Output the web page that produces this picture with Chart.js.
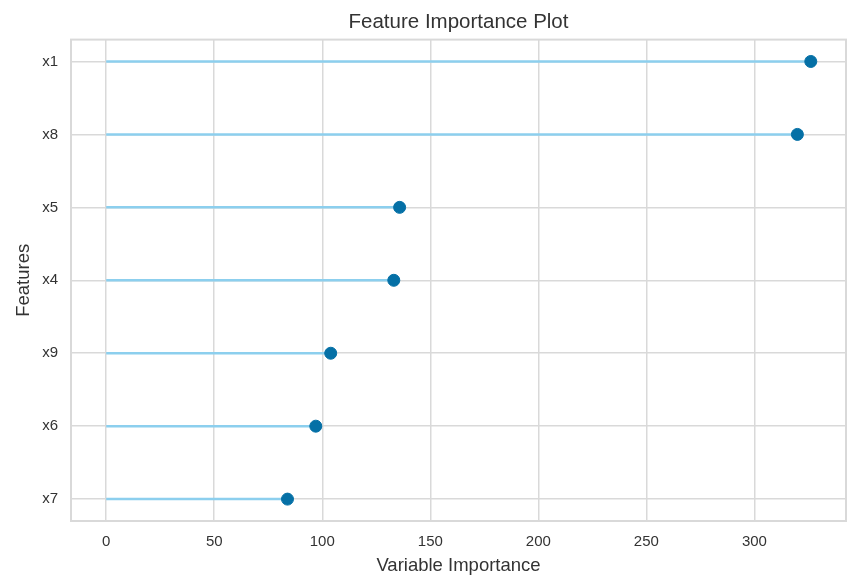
<!DOCTYPE html>
<html>
<head>
<meta charset="utf-8">
<script src="https://cdn.jsdelivr.net/npm/chart.js@4.4.1/dist/chart.umd.min.js"></script>
<style>
  html, body { margin: 0; padding: 0; background: #ffffff; }
  #wrap { width: 853px; height: 577px; position: relative; }
</style>
</head>
<body>
<div id="wrap"><canvas id="c"></canvas></div>
<script>
const features = ["x1", "x8", "x5", "x4", "x9", "x6", "x7"];
const importance = [326.1, 319.9, 135.8, 133.1, 103.9, 97.0, 83.9];
const xTicks = [0, 50, 100, 150, 200, 250, 300];

const chartTitle = "Feature Importance Plot";
const xTitle = "Variable Importance";
const yTitle = "Features";

const gridColor = "#d9d9d9";
const textColor = "#333333";
const stemColor = "#8ccfee";
const dotColor = "#0570a6";

const dotData = features.map((f, i) => ({ x: importance[i], y: i }));
const stemSets = features.map((f, i) => ({
  type: "line",
  label: f,
  data: [{ x: 0, y: i }, { x: importance[i], y: i }],
  borderColor: stemColor,
  borderWidth: 2.5,
  pointRadius: 0,
  fill: false
}));

const frame = {
  id: "frame",
  afterLayout(chart) {
    if (chart.titleBlock) {
      chart.titleBlock.left = chart.chartArea.left;
      chart.titleBlock.right = chart.chartArea.right;
    }
  },
  beforeDatasetsDraw(chart) {
    const a = chart.chartArea, ctx = chart.ctx;
    ctx.save();
    ctx.strokeStyle = gridColor;
    ctx.lineWidth = 2;
    ctx.strokeRect(a.left, a.top, a.right - a.left, a.bottom - a.top);
    ctx.restore();
  }
};

const fontFam = "'Liberation Sans', Arial, sans-serif";

new Chart(document.getElementById("c"), {
  type: "scatter",
  data: {
    datasets: [{
      type: "scatter",
      label: "importance",
      data: dotData,
      backgroundColor: dotColor,
      borderColor: dotColor,
      pointRadius: 6,
      pointHoverRadius: 6
    }].concat(stemSets)
  },
  options: {
    responsive: true,
    maintainAspectRatio: false,
    animation: false,
    layout: { padding: { top: 0, right: 6, bottom: 0, left: 0 } },
    plugins: {
      legend: { display: false },
      tooltip: { enabled: false },
      title: {
        display: true,
        text: chartTitle,
        color: textColor,
        font: { family: fontFam, size: 20.5, weight: "normal" },
        padding: { top: 10, bottom: 5 }
      }
    },
    scales: {
      x: {
        type: "linear",
        min: -16.3,
        max: 342.4,
        afterBuildTicks(scale) { scale.ticks = xTicks.map(v => ({ value: v })); },
        afterFit(scale) { scale.height = 56; },
        grid: { color: gridColor, lineWidth: 1.5, drawTicks: false },
        border: { display: false },
        ticks: {
          color: textColor,
          font: { family: fontFam, size: 15 },
          padding: 12
        },
        title: {
          display: true,
          text: xTitle,
          color: textColor,
          font: { family: fontFam, size: 18.5 },
          padding: { top: 2, bottom: 0 }
        }
      },
      y: {
        type: "linear",
        reverse: true,
        min: -0.3,
        max: 6.3,
        afterBuildTicks(scale) { scale.ticks = features.map((f, i) => ({ value: i })); },
        afterFit(scale) { scale.width = 71; },
        grid: { color: gridColor, lineWidth: 1.5, drawTicks: false },
        border: { display: false },
        ticks: {
          color: textColor,
          font: { family: fontFam, size: 15 },
          padding: 13,
          callback: (v) => features[v]
        },
        title: {
          display: true,
          text: yTitle,
          color: textColor,
          font: { family: fontFam, size: 18.5 },
          padding: { top: 13, bottom: 0 }
        }
      }
    }
  },
  plugins: [frame]
});
</script>
</body>
</html>
